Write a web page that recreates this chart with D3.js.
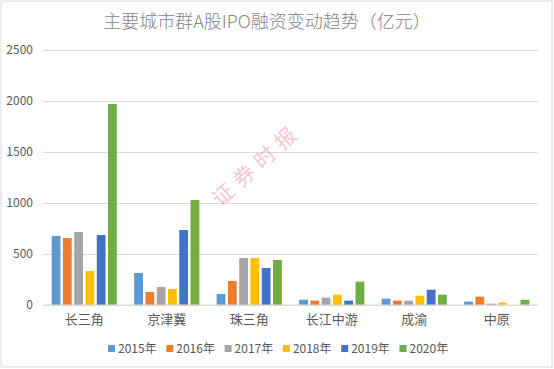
<!DOCTYPE html>
<html><head><meta charset="utf-8">
<script src="https://cdn.jsdelivr.net/npm/d3@7"></script>
<style>body{margin:0;background:#fff}svg{display:block}</style>
</head><body>
<script>
const categories = ["长三角","京津冀","珠三角","长江中游","成渝","中原"];
const seriesNames = ["2015年","2016年","2017年","2018年","2019年","2020年"];
const v2015 = [677, 314, 108, 52, 62, 33];
const v2016 = [657, 127, 235, 43, 43, 82];
const v2017 = [716, 176, 461, 72, 43, 13];
const v2018 = [333, 157, 461, 101, 92, 23];
const v2019 = [686, 735, 363, 43, 150, 0];
const v2020 = [1971, 1029, 441, 229, 101, 52];
const yTicks = [0, 500, 1000, 1500, 2000, 2500];
const colors = ["#5B9BD5","#ED7D31","#A5A5A5","#FFC000","#4472C4","#70AD47"];
const series = [v2015, v2016, v2017, v2018, v2019, v2020];

const W = 554, H = 369;
const font = "'Noto Sans CJK SC', 'Noto Sans', sans-serif";
const svg = d3.select("body").append("svg").attr("width", W).attr("height", H);
svg.append("rect").attr("x",1).attr("y",1).attr("width",551).attr("height",366)
  .attr("fill","#fff").attr("stroke","#d9d9d9").attr("stroke-width",1);

const mLeft = 43, mRight = 538, mTop = 50, mBottom = 305;
const x0 = d3.scaleBand().domain(categories).range([mLeft, mRight]).paddingInner(0.21).paddingOuter(0.105);
const x1 = d3.scaleBand().domain(seriesNames).range([0, x0.bandwidth()]).paddingInner(0.22);
const y = d3.scaleLinear().domain([0, 2500]).range([mBottom, mTop]);

// gridlines
const yAxis = d3.axisLeft(y).tickValues(yTicks).tickSize(-(mRight-mLeft)).tickFormat(d3.format("d")).tickPadding(10);
const ga = svg.append("g").attr("transform",`translate(${mLeft},0)`).call(yAxis);
ga.select(".domain").remove();
ga.selectAll(".tick line").attr("stroke","#d9d9d9").attr("stroke-width",1);
ga.selectAll(".tick text").attr("fill","#595959").style("font-family",font).style("font-size","12px");

// bars
series.forEach((vals, si) => {
  svg.append("g").selectAll("rect").data(vals).join("rect")
    .attr("x", (d,i) => x0(categories[i]) + x1(seriesNames[si]))
    .attr("y", d => y(d))
    .attr("width", x1.bandwidth())
    .attr("height", d => y(0) - y(d))
    .attr("fill", colors[si]);
});

// x axis
const xAxis = d3.axisBottom(x0).tickSize(0).tickPadding(10);
const gx = svg.append("g").attr("transform",`translate(0,${mBottom})`).call(xAxis);
gx.select(".domain").remove();
gx.selectAll(".tick text").attr("fill","#595959").style("font-family",font).style("font-size","13px");
svg.append("line").attr("x1",mLeft).attr("x2",mRight).attr("y1",y(0)).attr("y2",y(0))
  .attr("stroke","#d9d9d9").attr("stroke-width",1);

// title
svg.append("text").attr("x", 267).attr("y", 28).attr("text-anchor","middle")
  .attr("fill","#858585").style("font-family",font).style("font-size","18px").style("font-weight",300)
  .text("主要城市群A股IPO融资变动趋势（亿元）");

// legend
const lg = svg.append("g");
seriesNames.forEach((n, i) => {
  const lx = 108 + i*58.3;
  lg.append("rect").attr("x", lx).attr("y", 345).attr("width", 7).attr("height", 7).attr("fill", colors[i]);
  lg.append("text").attr("x", lx + 10).attr("y", 353).attr("fill","#595959")
    .style("font-family",font).style("font-size","12px").text(n);
});

// watermark
svg.append("text").attr("transform","translate(262,170) rotate(-42)")
  .attr("text-anchor","middle").attr("fill","#f08c9c").attr("opacity",0.5)
  .style("font-family",font).style("font-size","21px").style("letter-spacing","7px")
  .text("证券时报");
</script>
</body></html>
